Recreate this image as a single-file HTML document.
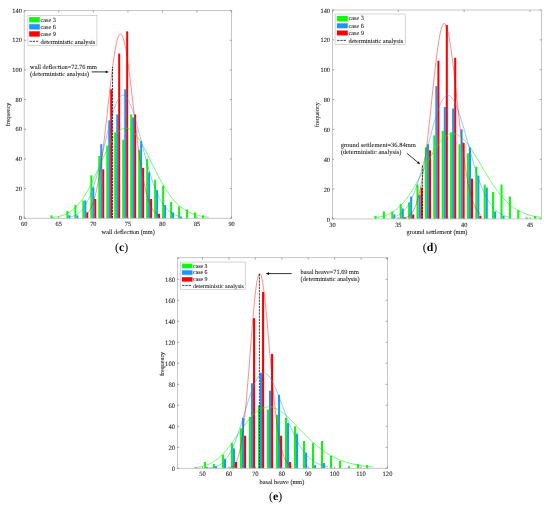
<!DOCTYPE html>
<html><head><meta charset="utf-8"><title>Histograms</title>
<style>html,body{margin:0;padding:0;background:#fff}svg{display:block}text{stroke:#222;stroke-width:0.08px}text.cap{stroke:none}</style></head>
<body>
<svg width="550" height="508" viewBox="0 0 550 508" font-family="'Liberation Serif', 'Times New Roman', serif" fill="#222" text-rendering="geometricPrecision">
<rect x="50.47" y="215.33" width="1.97" height="2.97" fill="#0cf80c"/>
<rect x="66.42" y="210.88" width="1.97" height="7.42" fill="#0cf80c"/>
<rect x="74.39" y="204.95" width="1.97" height="13.35" fill="#0cf80c"/>
<rect x="82.36" y="200.50" width="1.97" height="17.80" fill="#0cf80c"/>
<rect x="90.34" y="175.28" width="1.97" height="43.02" fill="#0cf80c"/>
<rect x="98.31" y="155.99" width="1.97" height="62.31" fill="#0cf80c"/>
<rect x="106.29" y="145.60" width="1.97" height="72.70" fill="#0cf80c"/>
<rect x="114.27" y="132.25" width="1.97" height="86.05" fill="#0cf80c"/>
<rect x="122.24" y="139.67" width="1.97" height="78.63" fill="#0cf80c"/>
<rect x="130.21" y="114.45" width="1.97" height="103.85" fill="#0cf80c"/>
<rect x="138.19" y="150.05" width="1.97" height="68.25" fill="#0cf80c"/>
<rect x="146.16" y="158.96" width="1.97" height="59.34" fill="#0cf80c"/>
<rect x="154.14" y="179.73" width="1.97" height="38.57" fill="#0cf80c"/>
<rect x="162.11" y="185.66" width="1.97" height="32.64" fill="#0cf80c"/>
<rect x="170.09" y="201.98" width="1.97" height="16.32" fill="#0cf80c"/>
<rect x="178.06" y="206.43" width="1.97" height="11.87" fill="#0cf80c"/>
<rect x="186.04" y="209.40" width="1.97" height="8.90" fill="#0cf80c"/>
<rect x="194.01" y="212.37" width="1.97" height="5.93" fill="#0cf80c"/>
<rect x="201.99" y="215.33" width="1.97" height="2.97" fill="#0cf80c"/>
<rect x="68.39" y="215.33" width="1.97" height="2.97" fill="#1e94fc"/>
<rect x="76.36" y="215.33" width="1.97" height="2.97" fill="#1e94fc"/>
<rect x="84.33" y="200.50" width="1.97" height="17.80" fill="#1e94fc"/>
<rect x="92.31" y="187.14" width="1.97" height="31.16" fill="#1e94fc"/>
<rect x="100.28" y="144.12" width="1.97" height="74.18" fill="#1e94fc"/>
<rect x="108.26" y="120.38" width="1.97" height="97.92" fill="#1e94fc"/>
<rect x="116.23" y="114.45" width="1.97" height="103.85" fill="#1e94fc"/>
<rect x="124.21" y="89.23" width="1.97" height="129.07" fill="#1e94fc"/>
<rect x="132.18" y="117.42" width="1.97" height="100.88" fill="#1e94fc"/>
<rect x="140.16" y="141.15" width="1.97" height="77.15" fill="#1e94fc"/>
<rect x="148.13" y="172.31" width="1.97" height="45.99" fill="#1e94fc"/>
<rect x="156.11" y="190.11" width="1.97" height="28.19" fill="#1e94fc"/>
<rect x="164.08" y="204.95" width="1.97" height="13.35" fill="#1e94fc"/>
<rect x="172.06" y="212.37" width="1.97" height="5.93" fill="#1e94fc"/>
<rect x="180.03" y="216.82" width="1.97" height="1.48" fill="#1e94fc"/>
<rect x="86.30" y="212.37" width="1.97" height="5.93" fill="#fb0000"/>
<rect x="94.28" y="199.01" width="1.97" height="19.29" fill="#fb0000"/>
<rect x="102.25" y="169.34" width="1.97" height="48.96" fill="#fb0000"/>
<rect x="110.23" y="89.23" width="1.97" height="129.07" fill="#fb0000"/>
<rect x="118.20" y="53.62" width="1.97" height="164.68" fill="#fb0000"/>
<rect x="126.18" y="31.37" width="1.97" height="186.93" fill="#fb0000"/>
<rect x="134.15" y="114.45" width="1.97" height="103.85" fill="#fb0000"/>
<rect x="142.13" y="167.86" width="1.97" height="50.44" fill="#fb0000"/>
<rect x="150.10" y="199.01" width="1.97" height="19.29" fill="#fb0000"/>
<rect x="158.08" y="213.85" width="1.97" height="4.45" fill="#fb0000"/>
<polyline points="51.16,217.63 52.15,217.52 53.13,217.41 54.12,217.28 55.10,217.14 56.09,216.98 57.07,216.80 58.06,216.60 59.04,216.38 60.03,216.13 61.01,215.85 62.00,215.55 62.98,215.22 63.97,214.85 64.95,214.45 65.94,214.01 66.92,213.53 67.91,213.01 68.89,212.45 69.88,211.83 70.86,211.17 71.85,210.45 72.83,209.68 73.82,208.86 74.80,207.98 75.79,207.03 76.77,206.03 77.76,204.96 78.74,203.82 79.73,202.62 80.71,201.35 81.70,200.02 82.68,198.62 83.67,197.15 84.65,195.61 85.64,194.01 86.62,192.34 87.61,190.61 88.59,188.82 89.58,186.98 90.56,185.07 91.55,183.12 92.54,181.11 93.52,179.06 94.51,176.98 95.49,174.85 96.48,172.70 97.46,170.53 98.45,168.34 99.43,166.14 100.42,163.93 101.40,161.73 102.39,159.54 103.37,157.37 104.36,155.22 105.34,153.11 106.33,151.03 107.31,149.01 108.30,147.04 109.28,145.13 110.27,143.29 111.25,141.53 112.24,139.86 113.22,138.27 114.21,136.78 115.19,135.40 116.18,134.12 117.16,132.96 118.15,131.91 119.13,130.98 120.12,130.18 121.10,129.51 122.09,128.96 123.07,128.55 124.06,128.27 125.04,128.12 126.03,128.11 127.01,128.22 128.00,128.47 128.98,128.85 129.97,129.35 130.95,129.98 131.94,130.73 132.92,131.59 133.91,132.57 134.89,133.65 135.88,134.84 136.86,136.12 137.85,137.50 138.83,138.96 139.82,140.50 140.81,142.11 141.79,143.79 142.78,145.53 143.76,147.33 144.75,149.17 145.73,151.05 146.72,152.97 147.70,154.91 148.69,156.88 149.67,158.86 150.66,160.85 151.64,162.85 152.63,164.84 153.61,166.83 154.60,168.80 155.58,170.76 156.57,172.70 157.55,174.61 158.54,176.50 159.52,178.35 160.51,180.16 161.49,181.94 162.48,183.67 163.46,185.36 164.45,187.01 165.43,188.61 166.42,190.16 167.40,191.66 168.39,193.11 169.37,194.51 170.36,195.85 171.34,197.15 172.33,198.39 173.31,199.58 174.30,200.72 175.28,201.81 176.27,202.85 177.25,203.83 178.24,204.77 179.22,205.67 180.21,206.51 181.19,207.32 182.18,208.07 183.16,208.79 184.15,209.47 185.13,210.10 186.12,210.70 187.10,211.26 188.09,211.79 189.08,212.28 190.06,212.75 191.05,213.18 192.03,213.58 193.02,213.96 194.00,214.31 194.99,214.63 195.97,214.93 196.96,215.21 197.94,215.47 198.93,215.71 199.91,215.94 200.90,216.14 201.88,216.33 202.87,216.51 203.85,216.67 204.84,216.81 205.82,216.95 206.81,217.07 207.79,217.19 208.78,217.29" fill="none" stroke="#0cf80c" stroke-width="0.6"/>
<polyline points="68.44,217.36 69.15,217.23 69.86,217.08 70.57,216.91 71.28,216.72 71.99,216.51 72.69,216.28 73.40,216.02 74.11,215.73 74.82,215.41 75.53,215.06 76.24,214.67 76.95,214.24 77.65,213.78 78.36,213.27 79.07,212.71 79.78,212.10 80.49,211.44 81.20,210.72 81.91,209.94 82.61,209.10 83.32,208.20 84.03,207.23 84.74,206.18 85.45,205.07 86.16,203.87 86.87,202.60 87.57,201.24 88.28,199.80 88.99,198.28 89.70,196.67 90.41,194.97 91.12,193.19 91.83,191.32 92.54,189.35 93.24,187.30 93.95,185.16 94.66,182.94 95.37,180.63 96.08,178.24 96.79,175.78 97.50,173.24 98.20,170.63 98.91,167.95 99.62,165.21 100.33,162.42 101.04,159.58 101.75,156.70 102.46,153.79 103.16,150.85 103.87,147.89 104.58,144.92 105.29,141.96 106.00,139.00 106.71,136.06 107.42,133.15 108.12,130.28 108.83,127.46 109.54,124.70 110.25,122.01 110.96,119.40 111.67,116.87 112.38,114.45 113.08,112.13 113.79,109.93 114.50,107.86 115.21,105.92 115.92,104.12 116.63,102.47 117.34,100.98 118.04,99.65 118.75,98.48 119.46,97.48 120.17,96.66 120.88,96.02 121.59,95.55 122.30,95.27 123.00,95.16 123.71,95.24 124.42,95.50 125.13,95.93 125.84,96.54 126.55,97.32 127.26,98.27 127.96,99.38 128.67,100.65 129.38,102.08 130.09,103.64 130.80,105.35 131.51,107.19 132.22,109.14 132.92,111.22 133.63,113.40 134.34,115.68 135.05,118.04 135.76,120.49 136.47,123.00 137.18,125.58 137.88,128.21 138.59,130.88 139.30,133.59 140.01,136.32 140.72,139.07 141.43,141.83 142.14,144.59 142.84,147.35 143.55,150.09 144.26,152.81 144.97,155.51 145.68,158.17 146.39,160.79 147.10,163.37 147.80,165.90 148.51,168.37 149.22,170.79 149.93,173.15 150.64,175.45 151.35,177.68 152.06,179.85 152.76,181.94 153.47,183.96 154.18,185.91 154.89,187.78 155.60,189.59 156.31,191.32 157.02,192.97 157.72,194.55 158.43,196.07 159.14,197.50 159.85,198.87 160.56,200.18 161.27,201.41 161.98,202.58 162.68,203.68 163.39,204.73 164.10,205.71 164.81,206.63 165.52,207.50 166.23,208.32 166.94,209.09 167.64,209.80 168.35,210.47 169.06,211.10 169.77,211.68 170.48,212.22 171.19,212.73 171.90,213.20 172.60,213.63 173.31,214.03 174.02,214.40 174.73,214.75 175.44,215.06 176.15,215.35 176.86,215.62 177.56,215.87 178.27,216.09 178.98,216.30 179.69,216.49 180.40,216.66 181.11,216.82 181.82,216.97" fill="none" stroke="#1e94fc" stroke-width="0.5"/>
<polyline points="87.11,213.79 87.56,213.30 88.02,212.76 88.47,212.18 88.92,211.54 89.38,210.85 89.83,210.10 90.28,209.29 90.74,208.42 91.19,207.47 91.64,206.46 92.10,205.36 92.55,204.19 93.01,202.94 93.46,201.60 93.91,200.17 94.37,198.65 94.82,197.04 95.27,195.32 95.73,193.50 96.18,191.58 96.64,189.56 97.09,187.42 97.54,185.18 98.00,182.82 98.45,180.35 98.90,177.77 99.36,175.08 99.81,172.27 100.26,169.36 100.72,166.33 101.17,163.20 101.63,159.96 102.08,156.62 102.53,153.18 102.99,149.65 103.44,146.03 103.89,142.33 104.35,138.55 104.80,134.70 105.25,130.78 105.71,126.82 106.16,122.80 106.62,118.75 107.07,114.67 107.52,110.57 107.98,106.47 108.43,102.37 108.88,98.28 109.34,94.22 109.79,90.20 110.25,86.23 110.70,82.32 111.15,78.49 111.61,74.74 112.06,71.09 112.51,67.55 112.97,64.14 113.42,60.85 113.87,57.71 114.33,54.73 114.78,51.91 115.24,49.27 115.69,46.81 116.14,44.55 116.60,42.49 117.05,40.63 117.50,38.99 117.96,37.57 118.41,36.38 118.86,35.42 119.32,34.69 119.77,34.19 120.23,33.93 120.68,33.91 121.13,34.12 121.59,34.57 122.04,35.24 122.49,36.15 122.95,37.29 123.40,38.64 123.86,40.20 124.31,41.98 124.76,43.95 125.22,46.12 125.67,48.48 126.12,51.01 126.58,53.70 127.03,56.56 127.48,59.55 127.94,62.69 128.39,65.95 128.85,69.32 129.30,72.80 129.75,76.37 130.21,80.02 130.66,83.74 131.11,87.51 131.57,91.34 132.02,95.20 132.47,99.08 132.93,102.98 133.38,106.89 133.84,110.79 134.29,114.68 134.74,118.54 135.20,122.37 135.65,126.17 136.10,129.92 136.56,133.61 137.01,137.25 137.47,140.82 137.92,144.32 138.37,147.74 138.83,151.08 139.28,154.34 139.73,157.51 140.19,160.58 140.64,163.57 141.09,166.46 141.55,169.25 142.00,171.95 142.46,174.54 142.91,177.04 143.36,179.44 143.82,181.74 144.27,183.94 144.72,186.05 145.18,188.06 145.63,189.98 146.08,191.80 146.54,193.54 146.99,195.18 147.45,196.74 147.90,198.22 148.35,199.62 148.81,200.94 149.26,202.18 149.71,203.35 150.17,204.45 150.62,205.48 151.08,206.45 151.53,207.36 151.98,208.21 152.44,209.00 152.89,209.74 153.34,210.43 153.80,211.07 154.25,211.67 154.70,212.22 155.16,212.73 155.61,213.21 156.07,213.65 156.52,214.05 156.97,214.43 157.43,214.77 157.88,215.09 158.33,215.38 158.79,215.65 159.24,215.90 159.69,216.12" fill="none" stroke="#fb0000" stroke-width="0.45"/>
<line x1="112.50" y1="218.30" x2="112.50" y2="66.97" stroke="#000" stroke-width="0.75" stroke-dasharray="2.3 0.9"/>
<rect x="24.2" y="10.6" width="207.40" height="207.70" fill="none" stroke="#bababa" stroke-width="0.8"/>
<line x1="24.20" y1="218.3" x2="24.20" y2="216.5" stroke="#888" stroke-width="0.8"/>
<line x1="24.20" y1="10.6" x2="24.20" y2="12.4" stroke="#888" stroke-width="0.8"/>
<text x="24.20" y="225.60" font-size="6.3" text-anchor="middle">60</text>
<line x1="58.77" y1="218.3" x2="58.77" y2="216.5" stroke="#888" stroke-width="0.8"/>
<line x1="58.77" y1="10.6" x2="58.77" y2="12.4" stroke="#888" stroke-width="0.8"/>
<text x="58.77" y="225.60" font-size="6.3" text-anchor="middle">65</text>
<line x1="93.33" y1="218.3" x2="93.33" y2="216.5" stroke="#888" stroke-width="0.8"/>
<line x1="93.33" y1="10.6" x2="93.33" y2="12.4" stroke="#888" stroke-width="0.8"/>
<text x="93.33" y="225.60" font-size="6.3" text-anchor="middle">70</text>
<line x1="127.90" y1="218.3" x2="127.90" y2="216.5" stroke="#888" stroke-width="0.8"/>
<line x1="127.90" y1="10.6" x2="127.90" y2="12.4" stroke="#888" stroke-width="0.8"/>
<text x="127.90" y="225.60" font-size="6.3" text-anchor="middle">75</text>
<line x1="162.46" y1="218.3" x2="162.46" y2="216.5" stroke="#888" stroke-width="0.8"/>
<line x1="162.46" y1="10.6" x2="162.46" y2="12.4" stroke="#888" stroke-width="0.8"/>
<text x="162.46" y="225.60" font-size="6.3" text-anchor="middle">80</text>
<line x1="197.03" y1="218.3" x2="197.03" y2="216.5" stroke="#888" stroke-width="0.8"/>
<line x1="197.03" y1="10.6" x2="197.03" y2="12.4" stroke="#888" stroke-width="0.8"/>
<text x="197.03" y="225.60" font-size="6.3" text-anchor="middle">85</text>
<line x1="231.59" y1="218.3" x2="231.59" y2="216.5" stroke="#888" stroke-width="0.8"/>
<line x1="231.59" y1="10.6" x2="231.59" y2="12.4" stroke="#888" stroke-width="0.8"/>
<text x="231.59" y="225.60" font-size="6.3" text-anchor="middle">90</text>
<line x1="24.2" y1="218.30" x2="26.0" y2="218.30" stroke="#888" stroke-width="0.8"/>
<line x1="231.6" y1="218.30" x2="229.79999999999998" y2="218.30" stroke="#888" stroke-width="0.8"/>
<text x="21.80" y="220.40" font-size="6.3" text-anchor="end">0</text>
<line x1="24.2" y1="188.63" x2="26.0" y2="188.63" stroke="#888" stroke-width="0.8"/>
<line x1="231.6" y1="188.63" x2="229.79999999999998" y2="188.63" stroke="#888" stroke-width="0.8"/>
<text x="21.80" y="190.73" font-size="6.3" text-anchor="end">20</text>
<line x1="24.2" y1="158.96" x2="26.0" y2="158.96" stroke="#888" stroke-width="0.8"/>
<line x1="231.6" y1="158.96" x2="229.79999999999998" y2="158.96" stroke="#888" stroke-width="0.8"/>
<text x="21.80" y="161.05" font-size="6.3" text-anchor="end">40</text>
<line x1="24.2" y1="129.28" x2="26.0" y2="129.28" stroke="#888" stroke-width="0.8"/>
<line x1="231.6" y1="129.28" x2="229.79999999999998" y2="129.28" stroke="#888" stroke-width="0.8"/>
<text x="21.80" y="131.38" font-size="6.3" text-anchor="end">60</text>
<line x1="24.2" y1="99.61" x2="26.0" y2="99.61" stroke="#888" stroke-width="0.8"/>
<line x1="231.6" y1="99.61" x2="229.79999999999998" y2="99.61" stroke="#888" stroke-width="0.8"/>
<text x="21.80" y="101.71" font-size="6.3" text-anchor="end">80</text>
<line x1="24.2" y1="69.94" x2="26.0" y2="69.94" stroke="#888" stroke-width="0.8"/>
<line x1="231.6" y1="69.94" x2="229.79999999999998" y2="69.94" stroke="#888" stroke-width="0.8"/>
<text x="21.80" y="72.04" font-size="6.3" text-anchor="end">100</text>
<line x1="24.2" y1="40.27" x2="26.0" y2="40.27" stroke="#888" stroke-width="0.8"/>
<line x1="231.6" y1="40.27" x2="229.79999999999998" y2="40.27" stroke="#888" stroke-width="0.8"/>
<text x="21.80" y="42.37" font-size="6.3" text-anchor="end">120</text>
<line x1="24.2" y1="10.60" x2="26.0" y2="10.60" stroke="#888" stroke-width="0.8"/>
<line x1="231.6" y1="10.60" x2="229.79999999999998" y2="10.60" stroke="#888" stroke-width="0.8"/>
<text x="21.80" y="12.69" font-size="6.3" text-anchor="end">140</text>
<text x="128.2" y="234.2" font-size="6.3" text-anchor="middle">wall deflection (mm)</text>
<text transform="translate(10.1,114.5) rotate(-90)" font-size="5.9" text-anchor="middle">frequency</text>
<text x="121.5" y="250.5" class="cap" font-size="11.8" text-anchor="middle" fill="#000">(<tspan font-weight="bold">c</tspan>)</text>
<rect x="27.9" y="15.4" width="69" height="29.9" fill="#fff" stroke="#c4c4c4" stroke-width="0.7"/>
<rect x="29.2" y="17.1" width="10.60" height="5.30" fill="#0cf80c"/>
<text x="40.40" y="21.55" font-size="6.3">case 3</text>
<rect x="29.2" y="24.2" width="10.60" height="5.30" fill="#1e94fc"/>
<text x="40.40" y="28.65" font-size="6.3">case 6</text>
<rect x="29.2" y="31.3" width="10.60" height="5.30" fill="#fb0000"/>
<text x="40.40" y="35.75" font-size="6.3">case 9</text>
<line x1="29.5" y1="41.3" x2="38.80" y2="41.3" stroke="#000" stroke-width="0.75" stroke-dasharray="2.3 0.9"/>
<text x="40.40" y="43.50" font-size="6.3">deterministic analysis</text>
<text x="30.1" y="68.5" font-size="6.3">wall deflection=72.76 mm</text>
<text x="30.1" y="76.2" font-size="6.3">(deterministic analysis)</text>
<line x1="91.60" y1="71.90" x2="105.60" y2="71.90" stroke="#000" stroke-width="0.8"/>
<polygon points="108.80,71.90 105.60,73.20 105.60,70.60" fill="#000"/>
<rect x="374.48" y="215.92" width="2.05" height="2.98" fill="#0cf80c"/>
<rect x="382.88" y="211.44" width="2.05" height="7.46" fill="#0cf80c"/>
<rect x="391.28" y="211.44" width="2.05" height="7.46" fill="#0cf80c"/>
<rect x="399.68" y="203.98" width="2.05" height="14.92" fill="#0cf80c"/>
<rect x="408.08" y="202.49" width="2.05" height="16.41" fill="#0cf80c"/>
<rect x="416.48" y="184.58" width="2.05" height="34.32" fill="#0cf80c"/>
<rect x="424.88" y="147.28" width="2.05" height="71.62" fill="#0cf80c"/>
<rect x="433.28" y="135.35" width="2.05" height="83.55" fill="#0cf80c"/>
<rect x="441.68" y="130.87" width="2.05" height="88.03" fill="#0cf80c"/>
<rect x="450.08" y="132.36" width="2.05" height="86.54" fill="#0cf80c"/>
<rect x="458.48" y="144.30" width="2.05" height="74.60" fill="#0cf80c"/>
<rect x="466.88" y="153.25" width="2.05" height="65.65" fill="#0cf80c"/>
<rect x="475.28" y="166.68" width="2.05" height="52.22" fill="#0cf80c"/>
<rect x="483.68" y="184.58" width="2.05" height="34.32" fill="#0cf80c"/>
<rect x="492.08" y="192.04" width="2.05" height="26.86" fill="#0cf80c"/>
<rect x="500.48" y="184.58" width="2.05" height="34.32" fill="#0cf80c"/>
<rect x="508.88" y="196.52" width="2.05" height="22.38" fill="#0cf80c"/>
<rect x="517.27" y="209.95" width="2.05" height="8.95" fill="#0cf80c"/>
<rect x="525.68" y="217.41" width="2.05" height="1.49" fill="#0cf80c"/>
<rect x="534.08" y="215.92" width="2.05" height="2.98" fill="#0cf80c"/>
<rect x="393.33" y="214.42" width="2.05" height="4.48" fill="#1e94fc"/>
<rect x="401.73" y="208.46" width="2.05" height="10.44" fill="#1e94fc"/>
<rect x="410.13" y="196.52" width="2.05" height="22.38" fill="#1e94fc"/>
<rect x="418.53" y="195.03" width="2.05" height="23.87" fill="#1e94fc"/>
<rect x="426.93" y="144.30" width="2.05" height="74.60" fill="#1e94fc"/>
<rect x="435.33" y="86.11" width="2.05" height="132.79" fill="#1e94fc"/>
<rect x="443.73" y="107.00" width="2.05" height="111.90" fill="#1e94fc"/>
<rect x="452.13" y="108.49" width="2.05" height="110.41" fill="#1e94fc"/>
<rect x="460.53" y="129.38" width="2.05" height="89.52" fill="#1e94fc"/>
<rect x="468.93" y="147.28" width="2.05" height="71.62" fill="#1e94fc"/>
<rect x="477.33" y="175.63" width="2.05" height="43.27" fill="#1e94fc"/>
<rect x="485.73" y="187.57" width="2.05" height="31.33" fill="#1e94fc"/>
<rect x="494.13" y="211.44" width="2.05" height="7.46" fill="#1e94fc"/>
<rect x="502.53" y="215.92" width="2.05" height="2.98" fill="#1e94fc"/>
<rect x="403.78" y="217.41" width="2.05" height="1.49" fill="#fb0000"/>
<rect x="412.18" y="214.42" width="2.05" height="4.48" fill="#fb0000"/>
<rect x="420.58" y="187.57" width="2.05" height="31.33" fill="#fb0000"/>
<rect x="428.98" y="150.27" width="2.05" height="68.63" fill="#fb0000"/>
<rect x="437.38" y="60.75" width="2.05" height="158.15" fill="#fb0000"/>
<rect x="445.78" y="24.94" width="2.05" height="193.96" fill="#fb0000"/>
<rect x="454.18" y="57.76" width="2.05" height="161.14" fill="#fb0000"/>
<rect x="462.58" y="142.81" width="2.05" height="76.09" fill="#fb0000"/>
<rect x="470.98" y="178.62" width="2.05" height="40.28" fill="#fb0000"/>
<rect x="479.38" y="215.92" width="2.05" height="2.98" fill="#fb0000"/>
<polyline points="374.58,217.85 375.62,217.71 376.66,217.55 377.71,217.38 378.75,217.19 379.79,216.97 380.84,216.73 381.88,216.47 382.93,216.19 383.97,215.87 385.01,215.53 386.06,215.15 387.10,214.74 388.14,214.30 389.19,213.81 390.23,213.29 391.28,212.73 392.32,212.12 393.36,211.47 394.41,210.77 395.45,210.02 396.49,209.22 397.54,208.36 398.58,207.46 399.62,206.49 400.67,205.48 401.71,204.40 402.76,203.27 403.80,202.08 404.84,200.83 405.89,199.52 406.93,198.15 407.97,196.73 409.02,195.25 410.06,193.71 411.11,192.12 412.15,190.48 413.19,188.79 414.24,187.06 415.28,185.28 416.32,183.45 417.37,181.59 418.41,179.70 419.45,177.78 420.50,175.84 421.54,173.87 422.59,171.89 423.63,169.91 424.67,167.92 425.72,165.93 426.76,163.95 427.80,161.98 428.85,160.03 429.89,158.12 430.94,156.23 431.98,154.38 433.02,152.58 434.07,150.83 435.11,149.14 436.15,147.51 437.20,145.95 438.24,144.46 439.28,143.06 440.33,141.73 441.37,140.50 442.42,139.36 443.46,138.32 444.50,137.38 445.55,136.54 446.59,135.81 447.63,135.19 448.68,134.68 449.72,134.28 450.77,134.00 451.81,133.82 452.85,133.77 453.90,133.82 454.94,133.99 455.98,134.27 457.03,134.65 458.07,135.15 459.11,135.75 460.16,136.45 461.20,137.25 462.25,138.14 463.29,139.12 464.33,140.19 465.38,141.34 466.42,142.57 467.46,143.88 468.51,145.25 469.55,146.68 470.60,148.17 471.64,149.71 472.68,151.30 473.73,152.94 474.77,154.60 475.81,156.30 476.86,158.03 477.90,159.78 478.95,161.54 479.99,163.31 481.03,165.09 482.08,166.87 483.12,168.65 484.16,170.43 485.21,172.19 486.25,173.94 487.29,175.67 488.34,177.37 489.38,179.06 490.43,180.72 491.47,182.34 492.51,183.94 493.56,185.50 494.60,187.03 495.64,188.51 496.69,189.96 497.73,191.37 498.78,192.74 499.82,194.06 500.86,195.34 501.91,196.58 502.95,197.77 503.99,198.92 505.04,200.03 506.08,201.09 507.12,202.11 508.17,203.09 509.21,204.02 510.26,204.92 511.30,205.77 512.34,206.58 513.39,207.35 514.43,208.09 515.47,208.78 516.52,209.44 517.56,210.07 518.61,210.66 519.65,211.22 520.69,211.75 521.74,212.25 522.78,212.72 523.82,213.16 524.87,213.57 525.91,213.96 526.95,214.32 528.00,214.67 529.04,214.98 530.09,215.28 531.13,215.56 532.17,215.82 533.22,216.06 534.26,216.29 535.30,216.50 536.35,216.69 537.39,216.87 538.44,217.04 539.48,217.19 540.52,217.34 541.57,217.47" fill="none" stroke="#0cf80c" stroke-width="0.6"/>
<polyline points="396.32,216.04 397.03,215.72 397.73,215.36 398.44,214.97 399.14,214.55 399.84,214.09 400.55,213.59 401.25,213.04 401.96,212.46 402.66,211.82 403.37,211.13 404.07,210.40 404.77,209.61 405.48,208.76 406.18,207.85 406.89,206.88 407.59,205.84 408.30,204.74 409.00,203.57 409.70,202.33 410.41,201.02 411.11,199.63 411.82,198.17 412.52,196.64 413.23,195.03 413.93,193.34 414.63,191.57 415.34,189.73 416.04,187.81 416.75,185.82 417.45,183.75 418.16,181.61 418.86,179.39 419.57,177.11 420.27,174.77 420.97,172.36 421.68,169.89 422.38,167.37 423.09,164.79 423.79,162.18 424.50,159.52 425.20,156.82 425.90,154.10 426.61,151.36 427.31,148.60 428.02,145.84 428.72,143.07 429.43,140.31 430.13,137.56 430.83,134.83 431.54,132.14 432.24,129.48 432.95,126.87 433.65,124.32 434.36,121.82 435.06,119.40 435.76,117.05 436.47,114.79 437.17,112.63 437.88,110.56 438.58,108.61 439.29,106.76 439.99,105.04 440.69,103.45 441.40,101.98 442.10,100.65 442.81,99.47 443.51,98.43 444.22,97.53 444.92,96.79 445.62,96.20 446.33,95.77 447.03,95.49 447.74,95.37 448.44,95.40 449.15,95.59 449.85,95.93 450.55,96.43 451.26,97.07 451.96,97.87 452.67,98.80 453.37,99.87 454.08,101.08 454.78,102.42 455.48,103.88 456.19,105.46 456.89,107.15 457.60,108.95 458.30,110.85 459.01,112.85 459.71,114.93 460.41,117.09 461.12,119.32 461.82,121.61 462.53,123.97 463.23,126.37 463.94,128.82 464.64,131.30 465.35,133.81 466.05,136.35 466.75,138.90 467.46,141.45 468.16,144.02 468.87,146.57 469.57,149.12 470.28,151.66 470.98,154.17 471.68,156.66 472.39,159.12 473.09,161.54 473.80,163.93 474.50,166.27 475.21,168.57 475.91,170.82 476.61,173.02 477.32,175.16 478.02,177.25 478.73,179.28 479.43,181.26 480.14,183.17 480.84,185.02 481.54,186.81 482.25,188.53 482.95,190.19 483.66,191.79 484.36,193.33 485.07,194.80 485.77,196.22 486.47,197.57 487.18,198.86 487.88,200.09 488.59,201.26 489.29,202.38 490.00,203.44 490.70,204.45 491.40,205.40 492.11,206.31 492.81,207.17 493.52,207.97 494.22,208.74 494.93,209.45 495.63,210.13 496.33,210.77 497.04,211.36 497.74,211.92 498.45,212.45 499.15,212.94 499.86,213.39 500.56,213.82 501.26,214.22 501.97,214.59 502.67,214.94 503.38,215.26 504.08,215.56 504.79,215.84 505.49,216.09 506.19,216.33 506.90,216.55 507.60,216.75 508.31,216.94 509.01,217.11" fill="none" stroke="#1e94fc" stroke-width="0.5"/>
<polyline points="403.57,218.17 404.06,218.06 404.54,217.93 405.03,217.80 405.52,217.64 406.00,217.46 406.49,217.26 406.97,217.04 407.46,216.80 407.95,216.52 408.43,216.21 408.92,215.87 409.40,215.49 409.89,215.07 410.38,214.60 410.86,214.09 411.35,213.53 411.83,212.91 412.32,212.23 412.81,211.49 413.29,210.68 413.78,209.80 414.26,208.84 414.75,207.80 415.24,206.68 415.72,205.46 416.21,204.15 416.69,202.74 417.18,201.22 417.67,199.60 418.15,197.86 418.64,196.01 419.12,194.03 419.61,191.94 420.10,189.71 420.58,187.35 421.07,184.86 421.55,182.24 422.04,179.48 422.53,176.59 423.01,173.55 423.50,170.39 423.98,167.08 424.47,163.65 424.96,160.08 425.44,156.38 425.93,152.57 426.41,148.63 426.90,144.58 427.39,140.43 427.87,136.18 428.36,131.84 428.84,127.42 429.33,122.93 429.82,118.39 430.30,113.79 430.79,109.16 431.27,104.51 431.76,99.85 432.25,95.20 432.73,90.57 433.22,85.97 433.70,81.43 434.19,76.95 434.68,72.56 435.16,68.26 435.65,64.08 436.13,60.02 436.62,56.11 437.11,52.37 437.59,48.79 438.08,45.41 438.56,42.22 439.05,39.26 439.54,36.51 440.02,34.01 440.51,31.75 440.99,29.75 441.48,28.02 441.97,26.56 442.45,25.37 442.94,24.46 443.43,23.84 443.91,23.51 444.40,23.46 444.88,23.70 445.37,24.23 445.86,25.04 446.34,26.12 446.83,27.48 447.31,29.10 447.80,30.98 448.29,33.10 448.77,35.47 449.26,38.07 449.74,40.88 450.23,43.90 450.72,47.11 451.20,50.50 451.69,54.05 452.17,57.76 452.66,61.61 453.15,65.57 453.63,69.65 454.12,73.82 454.60,78.07 455.09,82.38 455.58,86.74 456.06,91.14 456.55,95.56 457.03,99.99 457.52,104.42 458.01,108.83 458.49,113.22 458.98,117.57 459.46,121.87 459.95,126.11 460.44,130.28 460.92,134.39 461.41,138.40 461.89,142.33 462.38,146.17 462.87,149.90 463.35,153.53 463.84,157.05 464.32,160.45 464.81,163.74 465.30,166.91 465.78,169.97 466.27,172.90 466.75,175.72 467.24,178.41 467.73,180.98 468.21,183.44 468.70,185.78 469.18,188.00 469.67,190.12 470.16,192.12 470.64,194.01 471.13,195.80 471.61,197.49 472.10,199.08 472.59,200.57 473.07,201.97 473.56,203.29 474.04,204.52 474.53,205.67 475.02,206.74 475.50,207.74 475.99,208.67 476.47,209.53 476.96,210.33 477.45,211.08 477.93,211.76 478.42,212.40 478.90,212.98 479.39,213.52 479.88,214.02 480.36,214.47 480.85,214.89 481.33,215.27" fill="none" stroke="#fb0000" stroke-width="0.45"/>
<line x1="422.40" y1="218.90" x2="422.40" y2="165.19" stroke="#000" stroke-width="0.75" stroke-dasharray="2.3 0.9"/>
<rect x="332.4" y="10.0" width="209.20" height="208.90" fill="none" stroke="#bababa" stroke-width="0.8"/>
<line x1="332.40" y1="218.9" x2="332.40" y2="217.1" stroke="#888" stroke-width="0.8"/>
<line x1="332.40" y1="10.0" x2="332.40" y2="11.8" stroke="#888" stroke-width="0.8"/>
<text x="332.40" y="226.80" font-size="6.3" text-anchor="middle">30</text>
<line x1="398.30" y1="218.9" x2="398.30" y2="217.1" stroke="#888" stroke-width="0.8"/>
<line x1="398.30" y1="10.0" x2="398.30" y2="11.8" stroke="#888" stroke-width="0.8"/>
<text x="398.30" y="226.80" font-size="6.3" text-anchor="middle">35</text>
<line x1="464.20" y1="218.9" x2="464.20" y2="217.1" stroke="#888" stroke-width="0.8"/>
<line x1="464.20" y1="10.0" x2="464.20" y2="11.8" stroke="#888" stroke-width="0.8"/>
<text x="464.20" y="226.80" font-size="6.3" text-anchor="middle">40</text>
<line x1="530.10" y1="218.9" x2="530.10" y2="217.1" stroke="#888" stroke-width="0.8"/>
<line x1="530.10" y1="10.0" x2="530.10" y2="11.8" stroke="#888" stroke-width="0.8"/>
<text x="530.10" y="226.80" font-size="6.3" text-anchor="middle">45</text>
<line x1="332.4" y1="218.90" x2="334.2" y2="218.90" stroke="#888" stroke-width="0.8"/>
<line x1="541.6" y1="218.90" x2="539.8000000000001" y2="218.90" stroke="#888" stroke-width="0.8"/>
<text x="330.00" y="221.50" font-size="6.3" text-anchor="end">0</text>
<line x1="332.4" y1="189.06" x2="334.2" y2="189.06" stroke="#888" stroke-width="0.8"/>
<line x1="541.6" y1="189.06" x2="539.8000000000001" y2="189.06" stroke="#888" stroke-width="0.8"/>
<text x="330.00" y="191.66" font-size="6.3" text-anchor="end">20</text>
<line x1="332.4" y1="159.22" x2="334.2" y2="159.22" stroke="#888" stroke-width="0.8"/>
<line x1="541.6" y1="159.22" x2="539.8000000000001" y2="159.22" stroke="#888" stroke-width="0.8"/>
<text x="330.00" y="161.82" font-size="6.3" text-anchor="end">40</text>
<line x1="332.4" y1="129.38" x2="334.2" y2="129.38" stroke="#888" stroke-width="0.8"/>
<line x1="541.6" y1="129.38" x2="539.8000000000001" y2="129.38" stroke="#888" stroke-width="0.8"/>
<text x="330.00" y="131.98" font-size="6.3" text-anchor="end">60</text>
<line x1="332.4" y1="99.54" x2="334.2" y2="99.54" stroke="#888" stroke-width="0.8"/>
<line x1="541.6" y1="99.54" x2="539.8000000000001" y2="99.54" stroke="#888" stroke-width="0.8"/>
<text x="330.00" y="102.14" font-size="6.3" text-anchor="end">80</text>
<line x1="332.4" y1="69.70" x2="334.2" y2="69.70" stroke="#888" stroke-width="0.8"/>
<line x1="541.6" y1="69.70" x2="539.8000000000001" y2="69.70" stroke="#888" stroke-width="0.8"/>
<text x="330.00" y="72.30" font-size="6.3" text-anchor="end">100</text>
<line x1="332.4" y1="39.86" x2="334.2" y2="39.86" stroke="#888" stroke-width="0.8"/>
<line x1="541.6" y1="39.86" x2="539.8000000000001" y2="39.86" stroke="#888" stroke-width="0.8"/>
<text x="330.00" y="42.46" font-size="6.3" text-anchor="end">120</text>
<line x1="332.4" y1="10.02" x2="334.2" y2="10.02" stroke="#888" stroke-width="0.8"/>
<line x1="541.6" y1="10.02" x2="539.8000000000001" y2="10.02" stroke="#888" stroke-width="0.8"/>
<text x="330.00" y="12.62" font-size="6.3" text-anchor="end">140</text>
<text x="437" y="233.9" font-size="6.3" text-anchor="middle">ground settlement (mm)</text>
<text transform="translate(319,114.6) rotate(-90)" font-size="6.3" text-anchor="middle">frequency</text>
<text x="430" y="250.5" class="cap" font-size="11.8" text-anchor="middle" fill="#000">(<tspan font-weight="bold">d</tspan>)</text>
<rect x="335.1" y="14.0" width="70.1" height="30.3" fill="#fff" stroke="#c4c4c4" stroke-width="0.7"/>
<rect x="336.9" y="15.9" width="10.90" height="5.40" fill="#0cf80c"/>
<text x="348.40" y="20.40" font-size="6.3">case 3</text>
<rect x="336.9" y="23.3" width="10.90" height="5.00" fill="#1e94fc"/>
<text x="348.40" y="27.60" font-size="6.3">case 6</text>
<rect x="336.9" y="30.5" width="10.90" height="4.90" fill="#fb0000"/>
<text x="348.40" y="34.75" font-size="6.3">case 9</text>
<line x1="337.2" y1="40.4" x2="346.80" y2="40.4" stroke="#000" stroke-width="0.75" stroke-dasharray="2.3 0.9"/>
<text x="348.40" y="42.60" font-size="6.3">deterministic analysis</text>
<text x="340.7" y="146.8" font-size="6.5">ground settlement=36.84mm</text>
<text x="340.7" y="154.2" font-size="6.5">(deterministic analysis)</text>
<line x1="406.80" y1="153.20" x2="417.74" y2="162.26" stroke="#000" stroke-width="0.8"/>
<polygon points="420.20,164.30 416.91,163.26 418.56,161.26" fill="#000"/>
<rect x="194.87" y="467.25" width="2.06" height="1.05" fill="#0cf80c"/>
<rect x="203.88" y="462.00" width="2.06" height="6.30" fill="#0cf80c"/>
<rect x="212.89" y="464.10" width="2.06" height="4.20" fill="#0cf80c"/>
<rect x="221.90" y="454.65" width="2.06" height="13.65" fill="#0cf80c"/>
<rect x="230.91" y="443.10" width="2.06" height="25.20" fill="#0cf80c"/>
<rect x="239.92" y="428.40" width="2.06" height="39.90" fill="#0cf80c"/>
<rect x="248.93" y="416.85" width="2.06" height="51.45" fill="#0cf80c"/>
<rect x="257.94" y="405.30" width="2.06" height="63.00" fill="#0cf80c"/>
<rect x="266.95" y="409.50" width="2.06" height="58.80" fill="#0cf80c"/>
<rect x="275.96" y="414.75" width="2.06" height="53.55" fill="#0cf80c"/>
<rect x="284.97" y="417.90" width="2.06" height="50.40" fill="#0cf80c"/>
<rect x="293.98" y="426.30" width="2.06" height="42.00" fill="#0cf80c"/>
<rect x="302.99" y="441.00" width="2.06" height="27.30" fill="#0cf80c"/>
<rect x="312.00" y="443.10" width="2.06" height="25.20" fill="#0cf80c"/>
<rect x="321.01" y="441.00" width="2.06" height="27.30" fill="#0cf80c"/>
<rect x="330.02" y="455.70" width="2.06" height="12.60" fill="#0cf80c"/>
<rect x="339.03" y="460.95" width="2.06" height="7.35" fill="#0cf80c"/>
<rect x="348.04" y="466.20" width="2.06" height="2.10" fill="#0cf80c"/>
<rect x="357.05" y="464.10" width="2.06" height="4.20" fill="#0cf80c"/>
<rect x="366.06" y="465.15" width="2.06" height="3.15" fill="#0cf80c"/>
<rect x="205.94" y="467.25" width="2.06" height="1.05" fill="#1e94fc"/>
<rect x="214.95" y="466.20" width="2.06" height="2.10" fill="#1e94fc"/>
<rect x="223.96" y="458.85" width="2.06" height="9.45" fill="#1e94fc"/>
<rect x="232.97" y="448.35" width="2.06" height="19.95" fill="#1e94fc"/>
<rect x="241.98" y="417.90" width="2.06" height="50.40" fill="#1e94fc"/>
<rect x="250.99" y="383.25" width="2.06" height="85.05" fill="#1e94fc"/>
<rect x="260.00" y="372.75" width="2.06" height="95.55" fill="#1e94fc"/>
<rect x="269.01" y="390.60" width="2.06" height="77.70" fill="#1e94fc"/>
<rect x="278.02" y="394.80" width="2.06" height="73.50" fill="#1e94fc"/>
<rect x="287.03" y="423.15" width="2.06" height="45.15" fill="#1e94fc"/>
<rect x="296.04" y="433.65" width="2.06" height="34.65" fill="#1e94fc"/>
<rect x="305.05" y="452.55" width="2.06" height="15.75" fill="#1e94fc"/>
<rect x="314.06" y="465.15" width="2.06" height="3.15" fill="#1e94fc"/>
<rect x="323.07" y="463.05" width="2.06" height="5.25" fill="#1e94fc"/>
<rect x="235.03" y="462.00" width="2.06" height="6.30" fill="#fb0000"/>
<rect x="244.04" y="435.75" width="2.06" height="32.55" fill="#fb0000"/>
<rect x="253.05" y="318.15" width="2.06" height="150.15" fill="#fb0000"/>
<rect x="262.06" y="291.90" width="2.06" height="176.40" fill="#fb0000"/>
<rect x="271.07" y="353.85" width="2.06" height="114.45" fill="#fb0000"/>
<rect x="280.08" y="435.75" width="2.06" height="32.55" fill="#fb0000"/>
<rect x="289.09" y="462.00" width="2.06" height="6.30" fill="#fb0000"/>
<polyline points="194.57,467.69 195.69,467.57 196.80,467.43 197.92,467.28 199.03,467.10 200.15,466.90 201.26,466.67 202.38,466.41 203.49,466.12 204.61,465.80 205.72,465.44 206.84,465.04 207.95,464.60 209.07,464.12 210.18,463.59 211.30,463.01 212.41,462.38 213.53,461.70 214.64,460.97 215.76,460.19 216.87,459.35 217.99,458.45 219.10,457.50 220.22,456.49 221.33,455.43 222.45,454.31 223.56,453.14 224.68,451.91 225.79,450.64 226.91,449.31 228.02,447.95 229.14,446.54 230.25,445.09 231.37,443.60 232.48,442.09 233.60,440.55 234.71,438.99 235.83,437.41 236.94,435.82 238.06,434.23 239.17,432.63 240.29,431.04 241.40,429.46 242.52,427.89 243.63,426.35 244.75,424.83 245.86,423.35 246.98,421.90 248.09,420.50 249.21,419.15 250.32,417.85 251.44,416.60 252.55,415.42 253.67,414.30 254.78,413.26 255.90,412.28 257.01,411.38 258.13,410.56 259.24,409.81 260.36,409.15 261.47,408.58 262.59,408.08 263.70,407.67 264.82,407.35 265.93,407.11 267.05,406.95 268.16,406.88 269.28,406.89 270.39,406.98 271.51,407.15 272.62,407.40 273.74,407.72 274.85,408.12 275.97,408.59 277.08,409.12 278.20,409.72 279.31,410.37 280.43,411.09 281.54,411.86 282.66,412.68 283.77,413.55 284.89,414.46 286.00,415.42 287.12,416.40 288.23,417.43 289.35,418.48 290.46,419.56 291.58,420.66 292.69,421.78 293.81,422.92 294.92,424.07 296.04,425.23 297.15,426.39 298.27,427.57 299.38,428.74 300.50,429.91 301.61,431.08 302.73,432.24 303.84,433.40 304.96,434.54 306.07,435.68 307.19,436.80 308.30,437.90 309.42,438.99 310.53,440.06 311.65,441.11 312.76,442.15 313.88,443.16 314.99,444.14 316.11,445.11 317.22,446.05 318.34,446.97 319.45,447.86 320.57,448.73 321.68,449.57 322.80,450.39 323.91,451.19 325.03,451.96 326.14,452.70 327.26,453.42 328.37,454.11 329.49,454.78 330.60,455.43 331.72,456.05 332.83,456.65 333.95,457.22 335.06,457.77 336.18,458.30 337.29,458.81 338.41,459.30 339.52,459.76 340.64,460.21 341.75,460.64 342.87,461.04 343.98,461.43 345.10,461.81 346.21,462.16 347.33,462.50 348.44,462.82 349.56,463.12 350.67,463.42 351.79,463.69 352.90,463.96 354.02,464.21 355.13,464.44 356.25,464.67 357.36,464.88 358.48,465.08 359.59,465.27 360.71,465.45 361.82,465.62 362.94,465.79 364.05,465.94 365.17,466.08 366.28,466.22 367.40,466.35 368.51,466.47 369.63,466.58 370.74,466.69 371.86,466.79 372.97,466.89" fill="none" stroke="#0cf80c" stroke-width="0.6"/>
<polyline points="206.46,468.09 207.22,468.04 207.98,467.99 208.74,467.93 209.50,467.86 210.26,467.77 211.02,467.67 211.78,467.55 212.54,467.42 213.30,467.27 214.06,467.09 214.82,466.89 215.58,466.66 216.34,466.40 217.10,466.11 217.86,465.78 218.62,465.41 219.38,465.00 220.14,464.55 220.90,464.04 221.66,463.48 222.42,462.86 223.18,462.18 223.94,461.44 224.70,460.63 225.46,459.75 226.22,458.80 226.98,457.77 227.74,456.67 228.50,455.48 229.26,454.21 230.02,452.86 230.78,451.42 231.54,449.90 232.30,448.29 233.06,446.60 233.82,444.82 234.58,442.96 235.34,441.02 236.10,439.01 236.86,436.92 237.62,434.76 238.38,432.54 239.14,430.26 239.90,427.92 240.66,425.54 241.42,423.12 242.18,420.66 242.94,418.18 243.70,415.69 244.46,413.18 245.22,410.68 245.98,408.19 246.74,405.72 247.50,403.27 248.26,400.87 249.02,398.51 249.78,396.21 250.54,393.98 251.30,391.82 252.06,389.74 252.82,387.76 253.58,385.87 254.34,384.10 255.10,382.43 255.86,380.89 256.62,379.47 257.38,378.19 258.14,377.04 258.90,376.03 259.65,375.16 260.41,374.44 261.17,373.87 261.93,373.44 262.69,373.16 263.45,373.02 264.21,373.04 264.97,373.20 265.73,373.50 266.49,373.93 267.25,374.51 268.01,375.21 268.77,376.05 269.53,377.00 270.29,378.07 271.05,379.25 271.81,380.54 272.57,381.92 273.33,383.40 274.09,384.96 274.85,386.60 275.61,388.31 276.37,390.08 277.13,391.91 277.89,393.79 278.65,395.72 279.41,397.68 280.17,399.67 280.93,401.68 281.69,403.71 282.45,405.76 283.21,407.80 283.97,409.85 284.73,411.89 285.49,413.92 286.25,415.94 287.01,417.94 287.77,419.91 288.53,421.85 289.29,423.77 290.05,425.65 290.81,427.49 291.57,429.29 292.33,431.05 293.09,432.77 293.85,434.44 294.61,436.06 295.37,437.64 296.13,439.17 296.89,440.64 297.65,442.07 298.41,443.45 299.17,444.77 299.93,446.05 300.69,447.27 301.45,448.45 302.21,449.57 302.97,450.65 303.73,451.68 304.49,452.66 305.25,453.60 306.01,454.49 306.77,455.34 307.53,456.15 308.29,456.91 309.05,457.64 309.81,458.33 310.57,458.98 311.33,459.59 312.09,460.17 312.85,460.72 313.61,461.24 314.36,461.72 315.12,462.18 315.88,462.61 316.64,463.01 317.40,463.39 318.16,463.75 318.92,464.08 319.68,464.39 320.44,464.68 321.20,464.95 321.96,465.20 322.72,465.44 323.48,465.66 324.24,465.86 325.00,466.05 325.76,466.23 326.52,466.39 327.28,466.54 328.04,466.68" fill="none" stroke="#1e94fc" stroke-width="0.5"/>
<polyline points="229.72,467.72 230.11,467.61 230.51,467.49 230.90,467.35 231.29,467.19 231.68,467.01 232.07,466.80 232.46,466.56 232.85,466.29 233.25,465.98 233.64,465.63 234.03,465.23 234.42,464.79 234.81,464.29 235.20,463.74 235.60,463.12 235.99,462.43 236.38,461.66 236.77,460.82 237.16,459.89 237.55,458.86 237.94,457.74 238.34,456.50 238.73,455.16 239.12,453.70 239.51,452.11 239.90,450.39 240.29,448.54 240.68,446.54 241.08,444.40 241.47,442.10 241.86,439.65 242.25,437.04 242.64,434.27 243.03,431.33 243.43,428.23 243.82,424.96 244.21,421.53 244.60,417.93 244.99,414.17 245.38,410.25 245.77,406.19 246.17,401.97 246.56,397.62 246.95,393.14 247.34,388.54 247.73,383.82 248.12,379.01 248.51,374.12 248.91,369.16 249.30,364.14 249.69,359.09 250.08,354.01 250.47,348.93 250.86,343.87 251.26,338.84 251.65,333.87 252.04,328.97 252.43,324.16 252.82,319.47 253.21,314.91 253.60,310.50 254.00,306.27 254.39,302.23 254.78,298.39 255.17,294.78 255.56,291.41 255.95,288.30 256.34,285.45 256.74,282.89 257.13,280.63 257.52,278.66 257.91,277.00 258.30,275.66 258.69,274.65 259.08,273.95 259.48,273.59 259.87,273.55 260.26,273.83 260.65,274.44 261.04,275.36 261.43,276.59 261.83,278.12 262.22,279.94 262.61,282.04 263.00,284.42 263.39,287.05 263.78,289.93 264.17,293.03 264.57,296.35 264.96,299.86 265.35,303.56 265.74,307.43 266.13,311.44 266.52,315.58 266.91,319.83 267.31,324.18 267.70,328.61 268.09,333.11 268.48,337.65 268.87,342.22 269.26,346.81 269.66,351.40 270.05,355.98 270.44,360.53 270.83,365.04 271.22,369.50 271.61,373.91 272.00,378.24 272.40,382.49 272.79,386.65 273.18,390.71 273.57,394.68 273.96,398.53 274.35,402.27 274.74,405.90 275.14,409.40 275.53,412.78 275.92,416.03 276.31,419.16 276.70,422.16 277.09,425.03 277.49,427.78 277.88,430.40 278.27,432.89 278.66,435.26 279.05,437.52 279.44,439.65 279.83,441.67 280.23,443.58 280.62,445.37 281.01,447.07 281.40,448.66 281.79,450.15 282.18,451.55 282.57,452.86 282.97,454.09 283.36,455.23 283.75,456.30 284.14,457.29 284.53,458.21 284.92,459.06 285.32,459.85 285.71,460.59 286.10,461.26 286.49,461.89 286.88,462.46 287.27,462.99 287.66,463.48 288.06,463.93 288.45,464.34 288.84,464.71 289.23,465.06 289.62,465.37 290.01,465.66 290.40,465.92 290.80,466.15 291.19,466.37 291.58,466.57 291.97,466.74 292.36,466.90" fill="none" stroke="#fb0000" stroke-width="0.45"/>
<line x1="259.40" y1="468.30" x2="259.40" y2="273.00" stroke="#000" stroke-width="0.75" stroke-dasharray="2.3 0.9"/>
<rect x="177.4" y="257.7" width="210.10" height="210.60" fill="none" stroke="#bababa" stroke-width="0.8"/>
<line x1="202.50" y1="468.3" x2="202.50" y2="466.5" stroke="#888" stroke-width="0.8"/>
<line x1="202.50" y1="257.7" x2="202.50" y2="259.5" stroke="#888" stroke-width="0.8"/>
<text x="202.50" y="476.40" font-size="6.6" text-anchor="middle">50</text>
<line x1="228.93" y1="468.3" x2="228.93" y2="466.5" stroke="#888" stroke-width="0.8"/>
<line x1="228.93" y1="257.7" x2="228.93" y2="259.5" stroke="#888" stroke-width="0.8"/>
<text x="228.93" y="476.40" font-size="6.6" text-anchor="middle">60</text>
<line x1="255.36" y1="468.3" x2="255.36" y2="466.5" stroke="#888" stroke-width="0.8"/>
<line x1="255.36" y1="257.7" x2="255.36" y2="259.5" stroke="#888" stroke-width="0.8"/>
<text x="255.36" y="476.40" font-size="6.6" text-anchor="middle">70</text>
<line x1="281.79" y1="468.3" x2="281.79" y2="466.5" stroke="#888" stroke-width="0.8"/>
<line x1="281.79" y1="257.7" x2="281.79" y2="259.5" stroke="#888" stroke-width="0.8"/>
<text x="281.79" y="476.40" font-size="6.6" text-anchor="middle">80</text>
<line x1="308.22" y1="468.3" x2="308.22" y2="466.5" stroke="#888" stroke-width="0.8"/>
<line x1="308.22" y1="257.7" x2="308.22" y2="259.5" stroke="#888" stroke-width="0.8"/>
<text x="308.22" y="476.40" font-size="6.6" text-anchor="middle">90</text>
<line x1="334.65" y1="468.3" x2="334.65" y2="466.5" stroke="#888" stroke-width="0.8"/>
<line x1="334.65" y1="257.7" x2="334.65" y2="259.5" stroke="#888" stroke-width="0.8"/>
<text x="334.65" y="476.40" font-size="6.6" text-anchor="middle">100</text>
<line x1="361.08" y1="468.3" x2="361.08" y2="466.5" stroke="#888" stroke-width="0.8"/>
<line x1="361.08" y1="257.7" x2="361.08" y2="259.5" stroke="#888" stroke-width="0.8"/>
<text x="361.08" y="476.40" font-size="6.6" text-anchor="middle">110</text>
<line x1="387.51" y1="468.3" x2="387.51" y2="466.5" stroke="#888" stroke-width="0.8"/>
<line x1="387.51" y1="257.7" x2="387.51" y2="259.5" stroke="#888" stroke-width="0.8"/>
<text x="387.51" y="476.40" font-size="6.6" text-anchor="middle">120</text>
<line x1="177.4" y1="468.30" x2="179.20000000000002" y2="468.30" stroke="#888" stroke-width="0.8"/>
<line x1="387.5" y1="468.30" x2="385.7" y2="468.30" stroke="#888" stroke-width="0.8"/>
<text x="175.00" y="470.80" font-size="6.6" text-anchor="end">0</text>
<line x1="177.4" y1="447.30" x2="179.20000000000002" y2="447.30" stroke="#888" stroke-width="0.8"/>
<line x1="387.5" y1="447.30" x2="385.7" y2="447.30" stroke="#888" stroke-width="0.8"/>
<text x="175.00" y="449.80" font-size="6.6" text-anchor="end">20</text>
<line x1="177.4" y1="426.30" x2="179.20000000000002" y2="426.30" stroke="#888" stroke-width="0.8"/>
<line x1="387.5" y1="426.30" x2="385.7" y2="426.30" stroke="#888" stroke-width="0.8"/>
<text x="175.00" y="428.80" font-size="6.6" text-anchor="end">40</text>
<line x1="177.4" y1="405.30" x2="179.20000000000002" y2="405.30" stroke="#888" stroke-width="0.8"/>
<line x1="387.5" y1="405.30" x2="385.7" y2="405.30" stroke="#888" stroke-width="0.8"/>
<text x="175.00" y="407.80" font-size="6.6" text-anchor="end">60</text>
<line x1="177.4" y1="384.30" x2="179.20000000000002" y2="384.30" stroke="#888" stroke-width="0.8"/>
<line x1="387.5" y1="384.30" x2="385.7" y2="384.30" stroke="#888" stroke-width="0.8"/>
<text x="175.00" y="386.80" font-size="6.6" text-anchor="end">80</text>
<line x1="177.4" y1="363.30" x2="179.20000000000002" y2="363.30" stroke="#888" stroke-width="0.8"/>
<line x1="387.5" y1="363.30" x2="385.7" y2="363.30" stroke="#888" stroke-width="0.8"/>
<text x="175.00" y="365.80" font-size="6.6" text-anchor="end">100</text>
<line x1="177.4" y1="342.30" x2="179.20000000000002" y2="342.30" stroke="#888" stroke-width="0.8"/>
<line x1="387.5" y1="342.30" x2="385.7" y2="342.30" stroke="#888" stroke-width="0.8"/>
<text x="175.00" y="344.80" font-size="6.6" text-anchor="end">120</text>
<line x1="177.4" y1="321.30" x2="179.20000000000002" y2="321.30" stroke="#888" stroke-width="0.8"/>
<line x1="387.5" y1="321.30" x2="385.7" y2="321.30" stroke="#888" stroke-width="0.8"/>
<text x="175.00" y="323.80" font-size="6.6" text-anchor="end">140</text>
<line x1="177.4" y1="300.30" x2="179.20000000000002" y2="300.30" stroke="#888" stroke-width="0.8"/>
<line x1="387.5" y1="300.30" x2="385.7" y2="300.30" stroke="#888" stroke-width="0.8"/>
<text x="175.00" y="302.80" font-size="6.6" text-anchor="end">160</text>
<line x1="177.4" y1="279.30" x2="179.20000000000002" y2="279.30" stroke="#888" stroke-width="0.8"/>
<line x1="387.5" y1="279.30" x2="385.7" y2="279.30" stroke="#888" stroke-width="0.8"/>
<text x="175.00" y="281.80" font-size="6.6" text-anchor="end">180</text>
<line x1="177.4" y1="258.30" x2="179.20000000000002" y2="258.30" stroke="#888" stroke-width="0.8"/>
<line x1="387.5" y1="258.30" x2="385.7" y2="258.30" stroke="#888" stroke-width="0.8"/>
<text x="282" y="484" font-size="6.3" text-anchor="middle">basal heave (mm)</text>
<text transform="translate(163.6,363.9) rotate(-90)" font-size="6.0" text-anchor="middle">frequency</text>
<text x="275.5" y="499.9" class="cap" font-size="11.8" text-anchor="middle" fill="#000">(<tspan font-weight="bold">e</tspan>)</text>
<rect x="180.6" y="262.1" width="64.7" height="27.2" fill="#fff" stroke="#c4c4c4" stroke-width="0.7"/>
<rect x="181.9" y="263.6" width="10.60" height="4.70" fill="#0cf80c"/>
<text x="193.10" y="267.75" font-size="5.85">case 3</text>
<rect x="181.9" y="270.3" width="10.60" height="4.50" fill="#1e94fc"/>
<text x="193.10" y="274.35" font-size="5.85">case 6</text>
<rect x="181.9" y="277.2" width="10.60" height="4.40" fill="#fb0000"/>
<text x="193.10" y="281.20" font-size="5.85">case 9</text>
<line x1="182.20000000000002" y1="285.4" x2="191.50" y2="285.4" stroke="#000" stroke-width="0.75" stroke-dasharray="2.3 0.9"/>
<text x="193.10" y="287.60" font-size="5.85">deterministic analysis</text>
<text x="300.6" y="273.5" font-size="6.3">basal heave=71.69 mm</text>
<text x="300.6" y="280.6" font-size="6.3">(deterministic analysis)</text>
<line x1="291.70" y1="273.60" x2="269.00" y2="273.60" stroke="#000" stroke-width="0.8"/>
<polygon points="265.80,273.60 269.00,272.30 269.00,274.90" fill="#000"/>
</svg>
</body></html>
